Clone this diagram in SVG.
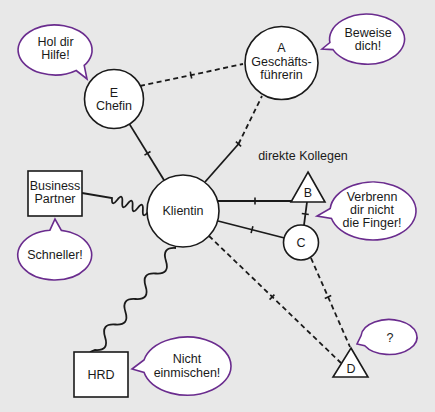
<svg xmlns="http://www.w3.org/2000/svg" width="435" height="412" viewBox="0 0 435 412">
<style>
text{font-family:"Liberation Sans",Arial,sans-serif;font-size:12.5px;fill:#1a1a1a;text-anchor:middle}
.n{fill:#fff;stroke:#1a1a1a;stroke-width:1.6}
.b{fill:#fff;stroke:#6a2c8e;stroke-width:1.6;stroke-linejoin:miter}
.l{fill:none;stroke:#1a1a1a;stroke-width:1.8}
.d{fill:none;stroke:#1a1a1a;stroke-width:1.8;stroke-dasharray:5 3.5}
.t{fill:none;stroke:#1a1a1a;stroke-width:1.6}
</style>
<rect width="435" height="412" fill="#e8e8e8"/>
<g id="connectors">
<path class="d" d="M140,86 L243,64"/>
<path class="t" d="M190.3,71.7 L191.7,78.5"/>
<path class="l" d="M129.5,124.1 L164.1,180.3"/>
<path class="t" d="M144.5,155.1 L150.5,151.5"/>
<path class="l" d="M205,182 L238.5,144"/>
<path class="d" d="M238.5,144 L262,96"/>
<path class="t" d="M235.9,141.7 L241.1,146.3"/>
<path class="l" d="M218,201 L293,201"/>
<path class="t" d="M255,197.5 L255,204.5"/>
<path class="l" d="M307,202 L304,225"/>
<path class="t" d="M301.8,213.5 L308.8,214.5"/>
<path class="l" d="M218,221 L284.5,238"/>
<path class="t" d="M252.9,226.3 L251.1,233.1"/>
<path class="d" d="M311,258 L350,347"/>
<path class="t" d="M324.8,298.5 L331.2,295.5"/>
<path class="d" d="M209,236 L341,363"/>
<path class="t" d="M269.6,299.6 L274.4,294.6"/>
<path class="l" d="M82,193 L112,198 Q111.3,207.4 117.14,200 T122.29,202 T127.43,204 T132.57,206 T137.71,208 T142.86,210 T148,212"/>
<path class="l" d="M176,248 Q161.5,246.9 165.9,260.75 T155.75,273.5 T145.6,286.25 T135.5,299 T125.4,311.75 T115.25,324.5 T105.1,337.25 T95,350 L90,352"/>
</g>
<g id="node-E">
<circle class="n" cx="114" cy="99" r="29.5"/>
<text x="114" y="97">E</text>
<text x="114" y="110">Chefin</text>
</g>
<g id="node-A">
<circle class="n" cx="281.5" cy="63" r="36.5"/>
<text x="281.5" y="52">A</text>
<text x="281.5" y="66">Geschäfts-</text>
<text x="281.5" y="79">führerin</text>
</g>
<g id="node-Klientin">
<circle class="n" cx="183" cy="211" r="36"/>
<text x="183" y="215">Klientin</text>
</g>
<g id="label-kollegen">
<text x="303" y="160">direkte Kollegen</text>
</g>
<g id="node-B">
<path class="n" d="M308,172 L325,202 L291,202 Z"/>
<text x="308" y="197">B</text>
</g>
<g id="node-C">
<circle class="n" cx="301" cy="242.5" r="17.5"/>
<text x="301" y="247">C</text>
</g>
<g id="node-D">
<path class="n" d="M351,348 L368,377 L333,377 Z"/>
<text x="351" y="373">D</text>
</g>
<g id="node-Business">
<rect class="n" x="28" y="171" width="54" height="45"/>
<text x="55" y="190">Business</text>
<text x="55" y="203">Partner</text>
</g>
<g id="node-HRD">
<rect class="n" x="74" y="352" width="54" height="45"/>
<text x="101" y="379">HRD</text>
</g>
<g id="bubble-E">
<path class="b" d="M84.2,65.4 A37,25 0 1 0 76.2,70.5 L87,79 Z"/>
<text x="55.5" y="46">Hol dir</text>
<text x="55.5" y="59">Hilfe!</text>
</g>
<g id="bubble-A">
<path class="b" d="M333,49.6 A37.5,25 0 1 0 329.9,42.5 L322,49 Z"/>
<text x="368" y="37">Beweise</text>
<text x="368" y="50">dich!</text>
</g>
<g id="bubble-C">
<path class="b" d="M331.5,218.5 A43,29 0 1 0 330.2,208.5 L317,216 Z"/>
<text x="372" y="201">Verbrenn</text>
<text x="372" y="214">dir nicht</text>
<text x="372" y="227">die Finger!</text>
</g>
<g id="bubble-Business">
<path class="b" d="M49.9,230.2 A37,25 0 1 0 61.4,230.4 L55,219 Z"/>
<text x="55" y="259">Schneller!</text>
</g>
<g id="bubble-HRD">
<path class="b" d="M144.1,372.5 A44,29 0 1 0 144,360 L132,369 Z"/>
<text x="187" y="363">Nicht</text>
<text x="187" y="377">einmischen!</text>
</g>
<g id="bubble-D">
<path class="b" d="M364.75,345.75 A28,17.5 0 1 0 361.1,335.5 L357,344 Z"/>
<text x="390" y="342">?</text>
</g>
</svg>
